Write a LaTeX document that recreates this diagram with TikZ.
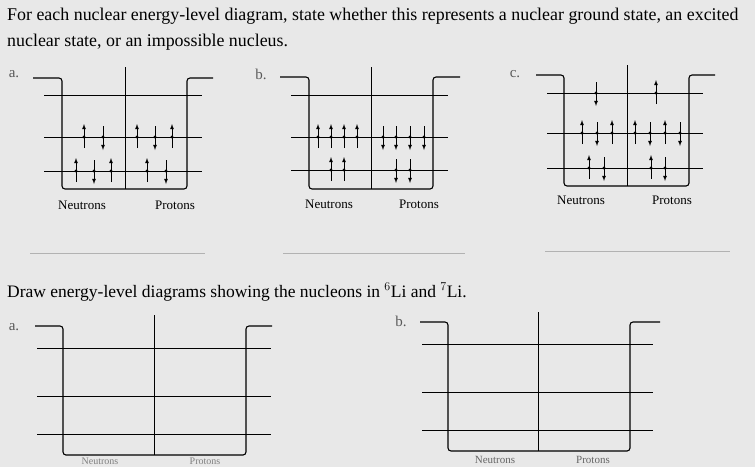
\documentclass[tikz,border=0pt]{standalone}
\usepackage{fontspec}
\setmainfont{Liberation Serif}
\begin{document}
\begin{tikzpicture}[x=1pt,y=-1pt,
  wall/.style={line width=1.1pt,rounded corners=3pt},
  lvl/.style={line width=0.8pt},
  spin/.style={line width=0.8pt,-latex},
  dot/.style={circle,fill,inner sep=1.2pt},
  lab/.style={font=\fontsize{13}{14}\selectfont,inner sep=0},
  ltr/.style={font=\fontsize{15}{16}\selectfont,inner sep=0,gray!70!black},
  ans/.style={gray!60,line width=0.5pt}]
\fill[gray!18] (0,0) rectangle (755,467);
\clip (0,0) rectangle (755,467);
\node[anchor=west,inner sep=0,font=\fontsize{17.9}{20}\selectfont] (t1) at (7,16) {For each nuclear energy-level diagram, state whether this represents a nuclear ground state, an excited};
\node[anchor=west,inner sep=0,font=\fontsize{17.9}{20}\selectfont] (t2) at (7,42) {nuclear state, or an impossible nucleus.};
\node[anchor=west,inner sep=0,font=\fontsize{17.5}{20}\selectfont] (t3) at (7,292) {Draw energy-level diagrams showing the nucleons in $^{6}$Li and $^{7}$Li.};
\newcommand{\mywell}[8]{%
  \draw[wall] (#1,#5) -- (#2,#5) -- (#2,#6) -- (#3,#6) -- (#3,#5) -- (#4,#5);
  \draw[lvl] (#7,#8) -- (#7,#6);
}
\newcommand{\upsp}[2]{\node[dot] at (#1,#2) {}; \draw[spin] (#1,#2+11) -- (#1,#2-13);}
\newcommand{\dnsp}[2]{\node[dot] at (#1,#2) {}; \draw[spin] (#1,#2-11) -- (#1,#2+13);}
% ---- a
\node[ltr] (la) at (14,74) {a.};
\mywell{33}{62}{187}{213}{78}{189}{125}{67}
\foreach \y in {95,137,171} \draw[lvl] (44,\y) -- (202,\y);
\upsp{84}{137}\dnsp{103}{137}\upsp{137}{137}\dnsp{155}{137}\upsp{172}{137}
\upsp{76}{171}\dnsp{94}{171}\upsp{111}{171}\upsp{147}{171}\dnsp{166}{171}
\node[lab] (na) at (82,205) {Neutrons};
\node[lab] (pa) at (175,205) {Protons};
% ---- b
\node[ltr] (lb) at (261,74) {b.};
\mywell{280}{309}{433}{460}{77}{189}{371}{67}
\foreach \y in {95,137,170} \draw[lvl] (291,\y) -- (448,\y);
\foreach \x in {318,331,344,357} {\upsp{\x}{137}}
\foreach \x in {383,396,410,424} {\dnsp{\x}{137}}
\upsp{331}{170}\upsp{344}{170}\dnsp{396}{170}\dnsp{410}{170}
\node[lab] (nb) at (329,204) {Neutrons};
\node[lab] (pb) at (419,204) {Protons};
% ---- c
\node[ltr] (lc) at (515,74) {c.};
\mywell{536}{564}{689}{715}{75}{186}{627}{65}
\foreach \y in {93,133,168} \draw[lvl] (547,\y) -- (703,\y);
\dnsp{596}{93}\upsp{656}{93}
\upsp{582}{133}\dnsp{597}{133}\upsp{612}{133}\upsp{635}{133}\dnsp{650}{133}\upsp{665}{133}\dnsp{680}{133}
\upsp{589}{168}\dnsp{604}{168}\upsp{651}{168}\dnsp{665}{168}
\node[lab] (nc) at (581,200) {Neutrons};
\node[lab] (pc) at (672,200) {Protons};
% answer lines
\draw[ans] (30,253) -- (205,253);
\draw[ans] (283,253) -- (465,253);
\draw[ans] (545,251) -- (730,251);
% ---- bottom a
\node[ltr] (ba) at (14,327) {a.};
\mywell{35}{63}{246}{272}{326}{455}{154}{315}
\foreach \y in {348,396,434} \draw[lvl] (37,\y) -- (271,\y);
\node[lab,font=\fontsize{10}{11}\selectfont,gray] (nba) at (100,461) {Neutrons};
\node[lab,font=\fontsize{10}{11}\selectfont,gray] (pba) at (205,461) {Protons};
% ---- bottom b
\node[ltr] (bb) at (401,321) {b.};
\mywell{420}{448}{630}{660}{322}{451}{538}{312}
\foreach \y in {344,392,430} \draw[lvl] (422,\y) -- (653,\y);
\node[lab,font=\fontsize{11}{12}\selectfont,gray!80!black] (nbb) at (495,460) {Neutrons};
\node[lab,font=\fontsize{11}{12}\selectfont,gray!80!black] (pbb) at (593,460) {Protons};
\end{tikzpicture}
\end{document}
